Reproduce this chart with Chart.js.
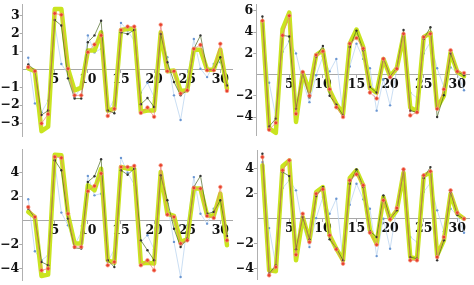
<!DOCTYPE html>
<html><head><meta charset="utf-8">
<script src="https://cdn.jsdelivr.net/npm/chart.js@4.4.1/dist/chart.umd.min.js"></script>
<style>
html,body{margin:0;padding:0;background:#fff;}
#wrap{position:relative;width:474px;height:285px;overflow:hidden;background:#fff;}
canvas{position:absolute;}
</style></head><body>
<div id="wrap">
<canvas id="c1" width="237" height="142" style="left:0px;top:0px"></canvas>
<canvas id="c2" width="237" height="142" style="left:237px;top:0px"></canvas>
<canvas id="c3" width="237" height="143" style="left:0px;top:142px"></canvas>
<canvas id="c4" width="237" height="143" style="left:237px;top:142px"></canvas>
</div>
<script>
// ---- data ----
const xValues = [1,2,3,4,5,6,7,8,9,10,11,12,13,14,15,16,17,18,19,20,21,22,23,24,25,26,27,28,29,30,31];
const xTicks = [5,10,15,20,25,30];

const yTicks1 = [-3,-2,-1,1,2,3];
const p1Yellow = [0.05,-0.1,-3.45,-3.2,3.37,3.37,0.04,-1.17,-1.02,1.05,1.05,2.07,-2.3,-2.2,2.2,2.26,2.26,-2.37,-2.3,-2.3,2.07,-0.1,-0.06,-1.2,-1.17,1.1,1.1,-0.02,-0.02,1.1,-1.07];
const p1Red    = [0.13,-0.1,-3.02,-2.5,3.13,3.05,0.04,-1.45,-1.45,0.96,1.39,1.9,-2.6,-2.2,2.2,2.39,2.39,-2.43,-2.13,-2.65,2.5,-0.1,-0.1,-1.35,-1.17,1.15,1.37,-0.05,-0.05,1.43,-1.2];
const p1Dark   = [0.28,-0.05,-2.55,-2.3,2.76,2.45,-0.5,-1.63,-1.63,1.52,1.9,2.72,-2.3,-2.45,2.07,1.98,2.2,-1.95,-1.6,-2.1,1.98,0.4,-0.7,-1.45,-1.17,1.15,1.9,-0.02,-0.02,0.68,-0.9];
const p1Blue   = [0.65,-1.9,-2.4,-1.75,2.5,0.3,-0.25,-1.55,-1.0,1.9,0.95,1.15,-2.35,-1.65,2.6,2.17,1.6,-1.3,-0.75,-1.55,1.98,0.68,-1.45,-2.83,-0.6,1.7,0.04,-0.43,0.3,0.4,-0.8];

const yTicks2 = [-4,-2,2,4,6];
const p2Yellow = [5.0,-5.08,-5.5,4.3,5.85,-4.46,0.15,-1.54,1.85,2.3,-1.48,-2.77,-3.7,2.92,4.25,2.6,-1.3,-1.7,1.48,-0.15,0.6,3.7,-3.1,-3.45,3.54,3.94,-3.14,-2.0,2.1,0.25,-0.15];
const p2Red    = [5.08,-5.2,-4.55,3.7,5.55,-3.7,0.25,-2.0,1.85,2.2,-1.38,-3.08,-4.0,2.92,3.45,2.46,-1.7,-2.25,1.48,-0.25,0.55,3.85,-3.85,-3.55,3.54,3.85,-3.23,-1.38,2.3,0.3,0.15];
const p2Dark   = [5.48,-4.9,-4.15,3.7,3.6,-3.23,0.15,-2.15,1.7,2.7,-2.0,-2.83,-3.85,2.6,4.15,2.3,-1.17,-1.7,1.54,-0.15,0.6,4.2,-3.4,-3.55,3.38,4.46,-4.0,-1.94,2.0,0.25,-0.06];
const p2Blue   = [4.5,-0.77,-4.0,2.15,3.14,2.0,-0.6,-2.6,-0.06,1.7,0.3,1.48,-3.7,0.77,2.92,1.48,0.6,-3.4,-0.46,-2.9,0.46,2.83,-1.7,-2.2,2.0,3.08,0.6,-1.17,0.68,0.15,-1.48];

const yTicks3 = [-4,-2,2,4];
const p3Yellow = [0.7,0.28,-4.64,-4.53,5.47,5.42,0.47,-1.94,-1.94,2.92,2.5,4.3,-3.33,-3.53,4.44,4.3,4.3,-3.6,-3.53,-3.6,4.03,0.55,0.36,-1.8,-1.58,2.64,2.64,0.42,0.36,2.22,-2.08];
const p3Red    = [1.1,0.28,-4.17,-4.03,5.28,5.2,0.55,-2.22,-2.22,2.42,2.86,3.9,-3.75,-3.47,4.44,4.44,4.53,-3.75,-3.33,-4.17,4.58,0.47,0.28,-1.94,-1.67,2.7,2.64,0.36,0.2,2.78,-1.67];
const p3Dark   = [0.97,0.2,-3.47,-3.75,5.0,4.17,0.14,-2.3,-2.36,3.2,3.67,5.08,-3.33,-3.9,4.17,3.8,4.3,-1.67,-2.5,-3.33,3.75,1.67,-0.7,-2.22,-1.53,2.78,3.7,0.55,0.7,1.67,-1.3];
const p3Blue   = [1.75,-2.58,-3.33,-2.92,4.8,0.64,-0.42,-2.03,-1.03,3.7,2.08,2.22,-3.47,-2.42,5.2,3.97,2.97,-1.8,-1.25,-2.42,3.6,1.4,-1.8,-4.72,-0.42,3.6,0.55,-0.28,0.97,1.86,-1.1];

const yTicks4 = [-4,-2,2,4];
const p4Yellow = [4.27,-4.13,-4.2,4.2,4.67,-3.33,0.13,-1.73,2.13,2.53,-1.33,-2.4,-3.33,3.25,3.87,2.67,-0.93,-2.0,1.73,-0.05,0.67,3.68,-3.07,-3.2,3.41,3.73,-2.93,-1.73,2.0,0.4,0.0];
const p4Red    = [4.93,-4.53,-3.87,3.87,4.67,-2.88,0.4,-1.87,2.0,2.35,-1.33,-2.45,-3.6,3.07,3.55,2.67,-1.12,-2.08,1.47,-0.05,0.85,3.95,-3.33,-3.33,3.47,3.79,-3.07,-1.47,2.27,0.48,0.0];
const p4Dark   = [5.2,-4.4,-3.73,3.73,3.41,-2.45,0.13,-1.65,1.81,2.53,-1.65,-2.35,-3.33,2.8,3.95,2.53,-1.0,-1.47,1.87,0.0,0.67,3.87,-3.07,-3.2,3.25,4.13,-3.33,-1.73,2.13,0.32,-0.05];
const p4Blue   = [4.53,-0.75,-3.73,2.45,3.07,2.27,-0.53,-2.27,0.05,1.73,0.4,1.6,-3.33,1.12,2.8,1.55,0.8,-2.99,0.0,-2.4,0.8,2.72,-1.47,-1.87,2.13,2.88,0.67,-1.01,0.8,0.27,-1.12];

// ---- drawing ----
const FONT = {family: "'DejaVu Serif','Liberation Serif',serif", size: 12.5, weight: 'bold'};
const fmt = v => (v < 0 ? '\u2212' + Math.abs(v) : String(v));
const pts = arr => xValues.map((x, i) => ({x: x, y: arr[i]}));
const noPad = s => { s.paddingTop = 0; s.paddingBottom = 0; s.paddingLeft = 0; s.paddingRight = 0; };

function makeChart(id, series, yTicks, geo) {
  const [yellow, red, dark, blue] = series;
  return new Chart(document.getElementById(id), {
    type: 'line',
    data: {
      datasets: [
        {data: pts(red), order: 1, borderColor: 'rgba(240,120,110,0.8)', borderWidth: 0.8, pointRadius: 1.8,
         pointBackgroundColor: '#e8402c', pointBorderColor: 'rgba(246,150,130,0.9)', pointBorderWidth: 0.8, clip: false},
        {data: pts(dark), order: 2, borderColor: 'rgba(70,100,30,0.85)', borderWidth: 0.8, pointRadius: 1.2,
         pointBackgroundColor: '#333', pointBorderColor: '#333', pointBorderWidth: 0, clip: false},
        {data: pts(yellow), order: 3, borderColor: '#c9e41f', borderWidth: 4.5, pointRadius: 0,
         borderJoinStyle: 'round', borderCapStyle: 'round', clip: false},
        {data: pts(blue), order: 4, borderColor: '#bcd5f0', borderWidth: 0.8, pointRadius: 1.2,
         pointBackgroundColor: '#6a96d2', pointBorderColor: '#6a96d2', pointBorderWidth: 0, clip: false}
      ]
    },
    options: {
      responsive: false, animation: false, devicePixelRatio: 1,
      layout: {padding: {left: 0, top: geo.top, right: geo.right, bottom: geo.bottom}},
      plugins: {legend: {display: false}, tooltip: {enabled: false}},
      elements: {line: {tension: 0}},
      scales: {
        x: {
          type: 'linear', axis: 'x', position: {y: 0}, z: 1,
          min: geo.xmin, max: geo.xmax,
          afterFit: s => { s.height = 0; noPad(s); },
          afterBuildTicks: s => { s.ticks = xTicks.map(v => ({value: v})); },
          grid: {display: true, drawOnChartArea: false, tickLength: 3, tickColor: '#aaa'},
          border: {display: true, color: '#a8a8a8', width: 1, dash: [3, 2]},
          ticks: {color: '#111', font: FONT, padding: 0, maxRotation: 0, autoSkip: false, callback: v => fmt(v)}
        },
        y: {
          type: 'linear', position: 'left',
          min: geo.ymin, max: geo.ymax,
          afterFit: s => { s.width = geo.left; noPad(s); },
          afterBuildTicks: s => { s.ticks = yTicks.map(v => ({value: v})); },
          grid: {display: true, drawOnChartArea: false, tickLength: 3, tickColor: '#aaa'},
          border: {display: true, color: '#b0b0b0', width: 1, dash: [2, 2]},
          ticks: {color: '#111', font: FONT, padding: 0, autoSkip: false, callback: v => fmt(v)}
        }
      }
    }
  });
}

makeChart('c1', [p1Yellow, p1Red, p1Dark, p1Blue], yTicks1,
  {left: 22.7, top: 4, right: 3, bottom: 6, xmin: 0.162, xmax: 31.79, ymin: -3.722, ymax: 3.611});
makeChart('c2', [p2Yellow, p2Red, p2Dark, p2Blue], yTicks2,
  {left: 19.3, top: 2, right: 5, bottom: 7, xmin: 0.092, xmax: 31.74, ymin: -5.697, ymax: 6.584});
makeChart('c3', [p3Yellow, p3Red, p3Dark, p3Blue], yTicks3,
  {left: 22.3, top: 7, right: 3, bottom: 5, xmin: 0.102, xmax: 31.79, ymin: -4.975, ymax: 5.94});
makeChart('c4', [p4Yellow, p4Red, p4Dark, p4Blue], yTicks4,
  {left: 20, top: 8, right: 5, bottom: 6, xmin: 0.196, xmax: 31.74, ymin: -4.824, ymax: 5.496});
</script>
</body></html>
